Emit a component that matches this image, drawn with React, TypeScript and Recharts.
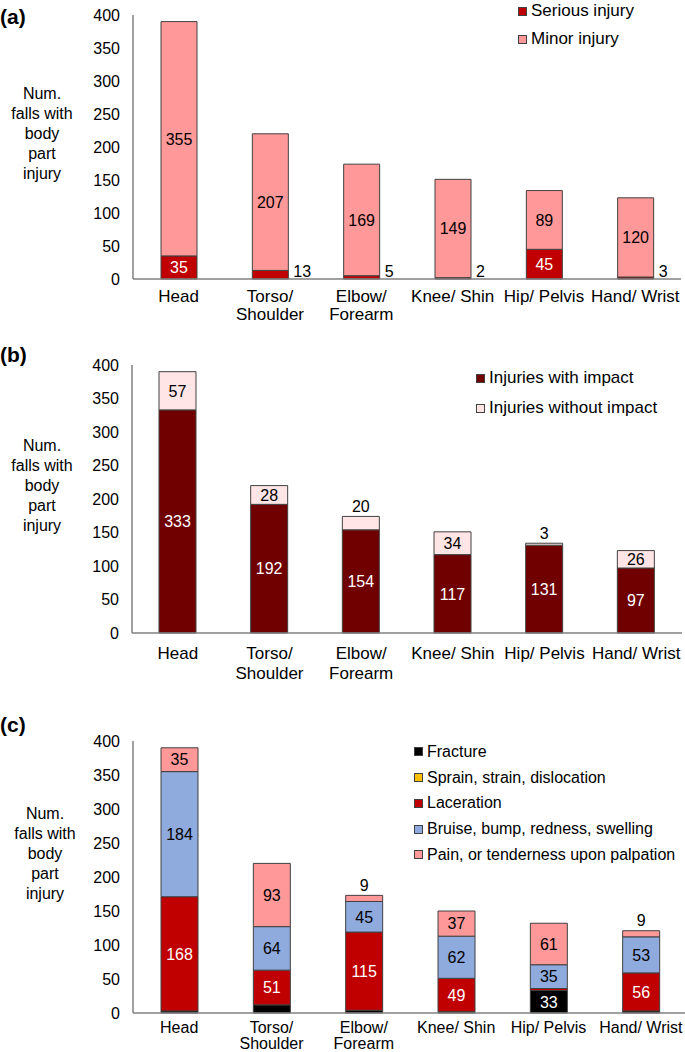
import React from 'react';
import { BarChart, Bar, XAxis, YAxis, Legend, LabelList } from 'recharts';

// categories, one entry per tick line
const categoryLines = [
  ['Head'],
  ['Torso/', 'Shoulder'],
  ['Elbow/', 'Forearm'],
  ['Knee/ Shin'],
  ['Hip/ Pelvis'],
  ['Hand/ Wrist'],
];
const categories = categoryLines.map((l) => l.join(' '));
const yTicks = [0, 50, 100, 150, 200, 250, 300, 350, 400];
const yTitleLines = ['Num.', 'falls with', 'body', 'part', 'injury'];

// (a) severity
const seriousInjury = [35, 13, 5, 2, 45, 3];
const minorInjury = [355, 207, 169, 149, 89, 120];

// (b) impact
const withImpact = [333, 192, 154, 117, 131, 97];
const withoutImpact = [57, 28, 20, 34, 3, 26];

// (c) injury type
const fracture = [3, 12, 4, 2, 33, 3];
const sprain = [0, 0, 0, 0, 0, 0];
const laceration = [168, 51, 115, 49, 3, 56];
const bruise = [184, 64, 45, 62, 35, 53];
const pain = [35, 93, 9, 37, 61, 9];

const dataA = categories.map((name, i) => ({ name, serious: seriousInjury[i], minor: minorInjury[i] }));
const dataB = categories.map((name, i) => ({ name, impact: withImpact[i], noImpact: withoutImpact[i] }));
const dataC = categories.map((name, i) => ({
  name,
  fracture: fracture[i],
  sprain: sprain[i],
  laceration: laceration[i],
  bruise: bruise[i],
  pain: pain[i],
}));

const FONT = '"Liberation Sans", Arial, Helvetica, sans-serif';
const OUTLINE = '#404040';
const AXIS = { stroke: '#808080', strokeWidth: 1.5 };

const CategoryTick = (props: any) => {
  const { x, y, payload, first, gap, size } = props;
  const idx = categories.indexOf(payload.value);
  const lines = idx >= 0 ? categoryLines[idx] : [payload.value];
  return (
    <text x={x} y={y + first} textAnchor="middle" fontSize={size} fill="#000">
      {lines.map((l: string, i: number) => (
        <tspan key={i} x={x} dy={i === 0 ? 0 : gap}>{l}</tspan>
      ))}
    </text>
  );
};

const YTitle = (props: any) => {
  const { tx, ty } = props;
  return (
    <text x={tx} y={ty - 40 + 6} textAnchor="middle" fontSize={16} fill="#000">
      {yTitleLines.map((l, i) => (
        <tspan key={i} x={tx} dy={i === 0 ? 0 : 20}>{l}</tspan>
      ))}
    </text>
  );
};

// label modes: inside / right of bar bottom / above bar / hidden
const barLabel = (pick: (v: number) => string, color: (v: number) => string) => (props: any) => {
  const vb = props.viewBox || props;
  const x = vb.x ?? props.x;
  const y = vb.y ?? props.y;
  const w = vb.width ?? props.width;
  const h = vb.height ?? props.height;
  const v = Number(props.value);
  const mode = pick(v);
  if (mode === 'none' || !v) return null;
  let tx = x + w / 2;
  let ty = y + h / 2;
  let anchor: any = 'middle';
  if (mode === 'right') {
    tx = x + w + 5;
    ty = y + h - 8;
    anchor = 'start';
  } else if (mode === 'above') {
    ty = y - 10;
  }
  return (
    <text x={tx} y={ty} dy="0.36em" textAnchor={anchor} fontSize={16} fill={mode === 'inside' ? color(v) : '#000'}>
      {v}
    </text>
  );
};

const LegendBox = ({ items, rowHeight, size }: { items: { label: string; color: string }[]; rowHeight: number; size: number }) => (
  <div style={{ fontFamily: FONT }}>
    {items.map((it) => (
      <div key={it.label} style={{ display: 'flex', alignItems: 'center', height: rowHeight }}>
        <span
          style={{
            width: 9,
            height: 9,
            background: it.color,
            border: `1px solid ${OUTLINE}`,
            boxSizing: 'border-box',
            marginRight: 4,
            flex: 'none',
          }}
        />
        <span style={{ fontSize: size, color: '#000', whiteSpace: 'nowrap' }}>{it.label}</span>
      </div>
    ))}
  </div>
);

const panelLetter = (text: string, top: number) => (
  <div style={{ position: 'absolute', left: 0, top, fontSize: 21, lineHeight: '21px', fontWeight: 'bold', color: '#000' }}>
    {text}
  </div>
);

const seriesA = [
  { key: 'serious', label: 'Serious injury', color: '#C00000' },
  { key: 'minor', label: 'Minor injury', color: '#FF9999' },
];
const seriesB = [
  { key: 'impact', label: 'Injuries with impact', color: '#700000' },
  { key: 'noImpact', label: 'Injuries without impact', color: '#FFE5E5' },
];
const seriesC = [
  { key: 'fracture', label: 'Fracture', color: '#000000' },
  { key: 'sprain', label: 'Sprain, strain, dislocation', color: '#FFC000' },
  { key: 'laceration', label: 'Laceration', color: '#C00000' },
  { key: 'bruise', label: 'Bruise, bump, redness, swelling', color: '#8FAADC' },
  { key: 'pain', label: 'Pain, or tenderness upon palpation', color: '#FF9999' },
];

const App: React.FC = () => {
  return (
    <div style={{ position: 'absolute', left: 0, top: 0, width: 685, height: 1052, overflow: 'hidden', background: '#fff', fontFamily: FONT }}>
      {/* (a) */}
      {panelLetter('(a)', 6)}
      <div style={{ position: 'absolute', left: 0, top: 0 }}>
        <BarChart width={690} height={330} data={dataA} margin={{ top: 15, right: 9, bottom: 6, left: 83 }} barCategoryGap={0}>
          <XAxis dataKey="name" interval={0} tickLine={false} axisLine={AXIS} height={45}
            tick={(p: any) => <CategoryTick {...p} first={15} gap={18} size={17} />} />
          <YAxis domain={[0, 400]} ticks={yTicks} interval={0} tickLine={false} axisLine={AXIS} width={50}
            tick={{ fill: '#000', fontSize: 16 }} tickMargin={7} label={<YTitle tx={42} ty={133} />} />
          <Legend layout="horizontal" verticalAlign="middle" align="center" width={200}
            wrapperStyle={{ top: -3, left: 518 }}
            content={() => <LegendBox items={seriesA} rowHeight={28} size={17} />} />
          <Bar dataKey="serious" name="Serious injury" stackId="a" fill="#C00000" stroke={OUTLINE} strokeWidth={1} barSize={36} isAnimationActive={false}>
            <LabelList dataKey="serious" content={barLabel((v) => (v >= 20 ? 'inside' : 'right'), () => '#fff')} />
          </Bar>
          <Bar dataKey="minor" name="Minor injury" stackId="a" fill="#FF9999" stroke={OUTLINE} strokeWidth={1} barSize={36} isAnimationActive={false}>
            <LabelList dataKey="minor" content={barLabel(() => 'inside', () => '#000')} />
          </Bar>
        </BarChart>
      </div>

      {/* (b) */}
      {panelLetter('(b)', 344)}
      <div style={{ position: 'absolute', left: 0, top: 330 }}>
        <BarChart width={690} height={360} data={dataB} margin={{ top: 35, right: 8, bottom: 7, left: 82 }} barCategoryGap={0}>
          <XAxis dataKey="name" interval={0} tickLine={false} axisLine={AXIS} height={50}
            tick={(p: any) => <CategoryTick {...p} first={18} gap={20} size={17} />} />
          <YAxis domain={[0, 400]} ticks={yTicks} interval={0} tickLine={false} axisLine={AXIS} width={50}
            tick={{ fill: '#000', fontSize: 16 }} tickMargin={7} label={<YTitle tx={42} ty={155} />} />
          <Legend layout="horizontal" verticalAlign="middle" align="center" width={220}
            wrapperStyle={{ top: 33, left: 476 }}
            content={() => <LegendBox items={seriesB} rowHeight={30} size={17} />} />
          <Bar dataKey="impact" name="Injuries with impact" stackId="b" fill="#700000" stroke={OUTLINE} strokeWidth={1} barSize={37} isAnimationActive={false}>
            <LabelList dataKey="impact" content={barLabel(() => 'inside', () => '#fff')} />
          </Bar>
          <Bar dataKey="noImpact" name="Injuries without impact" stackId="b" fill="#FFE5E5" stroke={OUTLINE} strokeWidth={1} barSize={37} isAnimationActive={false}>
            <LabelList dataKey="noImpact" content={barLabel((v) => (v >= 25 ? 'inside' : 'above'), () => '#000')} />
          </Bar>
        </BarChart>
      </div>

      {/* (c) */}
      {panelLetter('(c)', 714)}
      <div style={{ position: 'absolute', left: 0, top: 700 }}>
        <BarChart width={690} height={352} data={dataC} margin={{ top: 41, right: 3, bottom: 0, left: 83 }} barCategoryGap={0}>
          <XAxis dataKey="name" interval={0} tickLine={false} axisLine={AXIS} height={39}
            tick={(p: any) => <CategoryTick {...p} first={12} gap={16} size={16} />} />
          <YAxis domain={[0, 400]} ticks={yTicks} interval={0} tickLine={false} axisLine={AXIS} width={50}
            tick={{ fill: '#000', fontSize: 16 }} tickMargin={7} label={<YTitle tx={45} ty={153} />} />
          <Legend layout="horizontal" verticalAlign="middle" align="center" width={270}
            wrapperStyle={{ top: 39, left: 414 }}
            content={() => <LegendBox items={seriesC} rowHeight={25.75} size={16} />} />
          <Bar dataKey="fracture" name="Fracture" stackId="c" fill="#000000" stroke={OUTLINE} strokeWidth={1} barSize={37} isAnimationActive={false}>
            <LabelList dataKey="fracture" content={barLabel((v) => (v >= 20 ? 'inside' : 'none'), () => '#fff')} />
          </Bar>
          <Bar dataKey="sprain" name="Sprain, strain, dislocation" stackId="c" fill="#FFC000" stroke={OUTLINE} strokeWidth={1} barSize={37} isAnimationActive={false} />
          <Bar dataKey="laceration" name="Laceration" stackId="c" fill="#C00000" stroke={OUTLINE} strokeWidth={1} barSize={37} isAnimationActive={false}>
            <LabelList dataKey="laceration" content={barLabel((v) => (v >= 20 ? 'inside' : 'none'), () => '#fff')} />
          </Bar>
          <Bar dataKey="bruise" name="Bruise, bump, redness, swelling" stackId="c" fill="#8FAADC" stroke={OUTLINE} strokeWidth={1} barSize={37} isAnimationActive={false}>
            <LabelList dataKey="bruise" content={barLabel(() => 'inside', () => '#000')} />
          </Bar>
          <Bar dataKey="pain" name="Pain, or tenderness upon palpation" stackId="c" fill="#FF9999" stroke={OUTLINE} strokeWidth={1} barSize={37} isAnimationActive={false}>
            <LabelList dataKey="pain" content={barLabel((v) => (v >= 20 ? 'inside' : 'above'), () => '#000')} />
          </Bar>
        </BarChart>
      </div>
    </div>
  );
};

export default App;
